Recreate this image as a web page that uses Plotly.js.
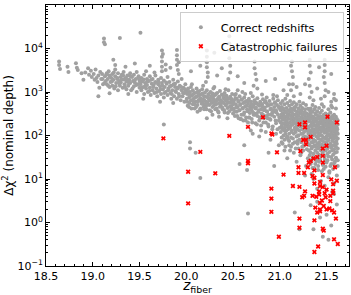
<!DOCTYPE html>
<html><head><meta charset="utf-8">
<script src="https://cdn.plot.ly/plotly-3.0.1.min.js"></script>
<style>html,body{margin:0;padding:0;background:#fff}#chart{width:351px;height:295px}</style>
</head><body><div id="chart"></div>
<script>
// Correct redshifts: fiber magnitude and delta chi^2
const correctZ = [
18.64,18.64,18.65,18.73,18.74,18.82,18.83,18.84,18.92,18.95,
18.96,18.98,18.99,19.01,19.03,19.04,19.05,19.06,19.07,19.08,
19.06,19.12,19.12,19.13,18.88,18.90,19.02,19.09,19.10,19.11,
19.13,19.14,19.15,19.15,19.16,19.17,19.18,19.18,19.19,19.20,
19.21,19.21,19.22,19.23,19.24,19.24,19.25,19.26,19.27,19.27,
19.28,19.29,19.30,19.30,19.31,19.32,19.33,19.33,19.34,19.35,
19.36,19.36,19.37,19.38,19.39,19.40,19.40,19.41,19.42,19.43,
19.44,19.44,19.45,19.46,19.47,19.47,19.48,19.49,19.50,19.50,
19.18,19.29,19.24,19.35,19.51,19.45,19.38,19.22,
19.51,19.52,19.52,19.53,19.54,19.55,19.55,19.56,19.57,19.58,
19.58,19.59,19.60,19.61,19.61,19.62,19.63,19.64,19.64,19.65,
19.66,19.67,19.67,19.68,19.69,19.70,19.70,19.71,19.72,19.73,
19.73,19.74,19.75,19.76,19.76,19.77,19.78,19.79,19.80,19.80,
19.81,19.82,19.83,19.84,19.84,19.85,19.86,19.87,19.88,19.88,
19.89,19.90,19.91,19.91,19.92,19.93,19.94,19.95,19.95,19.96,
19.97,19.98,19.98,19.99,20.00,19.57,19.66,19.54,19.72,19.86,
19.74,19.74,19.74,19.74,19.74,19.75,19.78,19.78,19.90,19.90,
19.90,19.90,19.91,19.92,19.92,19.61,19.83,19.76,20.04,
19.105,19.125,19.145,19.165,19.185,19.205,19.225,19.245,19.265,19.285,
19.305,19.325,19.345,19.365,19.385,19.405,19.425,19.445,19.465,19.485,
19.505,19.525,19.545,19.565,19.585,19.605,19.625,19.645,19.665,19.685,
19.705,19.725,19.745,19.765,19.785,19.805,19.825,19.845,19.865,19.885,
19.905,19.925,19.945,19.965,19.985,
20.01,20.01,20.02,20.03,20.03,20.04,20.05,20.05,20.06,20.07,
20.07,20.08,20.09,20.09,20.10,20.11,20.11,20.12,20.13,20.13,
20.14,20.15,20.15,20.16,20.17,20.17,20.18,20.19,20.19,20.20,
20.21,20.21,20.22,20.23,20.23,20.24,20.25,20.25,20.26,20.27,
20.27,20.28,20.29,20.29,20.30,20.31,20.31,20.32,20.33,20.33,
20.34,20.35,20.35,20.36,20.37,20.37,20.38,20.39,20.39,20.40,
20.41,20.41,20.42,20.43,20.43,20.44,20.45,20.45,20.46,20.47,
20.47,20.48,20.49,20.49,20.50,20.50,20.04,20.08,20.12,20.16,
20.20,20.24,20.28,20.32,20.36,20.40,20.44,20.48,20.06,20.18,
20.30,20.42,20.10,20.15,20.22,20.35,20.44,20.28,20.12,20.04,
20.22,20.22,20.22,20.22,20.23,20.23,20.21,20.46,20.46,20.46,
20.46,20.47,20.47,20.45,20.05,20.33,20.38,20.15,20.30,
20.005,20.015,20.025,20.035,20.045,20.055,20.065,20.075,20.085,20.095,
20.105,20.115,20.125,20.135,20.145,20.155,20.165,20.175,20.185,20.195,
20.205,20.215,20.225,20.235,20.245,20.255,20.265,20.275,20.285,20.295,
20.305,20.315,20.325,20.335,20.345,20.355,20.365,20.375,20.385,20.395,
20.405,20.415,20.425,20.435,20.445,20.455,20.465,20.475,20.485,20.495,
20.51,20.51,20.52,20.52,20.53,20.54,20.54,20.55,20.56,20.56,
20.57,20.57,20.58,20.59,20.59,20.60,20.61,20.61,20.62,20.62,
20.63,20.64,20.64,20.65,20.66,20.66,20.67,20.68,20.68,20.69,
20.70,20.70,20.71,20.72,20.72,20.73,20.74,20.74,20.75,20.76,
20.76,20.77,20.78,20.78,20.79,20.80,20.80,20.81,20.82,20.82,
20.83,20.84,20.84,20.85,20.86,20.86,20.87,20.88,20.88,20.89,
20.90,20.90,20.91,20.92,20.92,20.93,20.94,20.94,20.95,20.96,
20.96,20.97,20.98,20.98,20.99,21.00,21.00,20.53,20.58,20.63,
20.67,20.71,20.75,20.79,20.83,20.87,20.91,20.95,20.99,20.55,
20.69,20.81,20.93,20.60,20.74,20.86,20.97,20.57,20.65,20.66,
20.62,20.71,20.78,20.85,20.90,20.96,20.99,20.88,20.94,20.80,
20.69,20.73,20.73,20.74,20.75,20.72,20.76,20.95,20.85,20.62,20.55,
20.505,20.515,20.525,20.535,20.545,20.555,20.565,20.575,20.585,20.595,
20.605,20.615,20.625,20.635,20.645,20.655,20.665,20.675,20.685,20.695,
20.705,20.715,20.725,20.735,20.745,20.755,20.765,20.775,20.785,20.795,
20.805,20.815,20.825,20.835,20.845,20.855,20.865,20.875,20.885,20.895,
20.905,20.915,20.925,20.935,20.945,20.955,20.965,20.975,20.985,20.995,
21.01,21.01,21.01,21.01,21.02,21.02,21.02,21.02,
21.03,21.03,21.03,21.03,21.04,21.04,21.04,21.04,
21.05,21.05,21.05,21.05,21.06,21.06,21.06,21.06,
21.07,21.07,21.07,21.07,21.08,21.08,21.08,21.08,
21.09,21.09,21.09,21.09,21.10,21.10,21.10,21.10,
21.11,21.11,21.11,21.11,21.12,21.12,21.12,21.12,
21.13,21.13,21.13,21.13,21.14,21.14,21.14,21.14,
21.15,21.15,21.15,21.15,21.16,21.16,21.16,21.16,
21.17,21.17,21.17,21.17,21.18,21.18,21.18,21.18,
21.19,21.19,21.19,21.19,21.20,21.20,21.20,21.20,
21.21,21.21,21.21,21.21,21.22,21.22,21.22,21.22,
21.23,21.23,21.23,21.23,21.24,21.24,21.24,21.24,
21.25,21.25,21.25,21.25,21.26,21.26,21.26,21.26,
21.27,21.27,21.27,21.27,21.28,21.28,21.28,21.28,
21.29,21.29,21.29,21.29,21.30,21.30,21.30,21.30,
21.05,21.08,21.12,21.15,21.18,21.20,21.22,21.25,21.28,21.10,21.16,21.21,21.27,21.30,21.24,21.03,
21.13,21.13,21.12,21.13,21.14,21.14,21.12,21.15,21.04,21.08,21.18,21.22,21.27,21.10,
21.015,21.025,21.035,21.045,21.055,21.065,21.075,21.085,21.095,21.105,
21.115,21.125,21.135,21.145,21.155,21.165,21.175,21.185,21.195,21.205,
21.215,21.225,21.235,21.245,21.255,21.265,21.275,21.285,21.295,21.305,
21.02,21.06,21.09,21.11,21.14,21.17,21.19,21.23,21.26,21.29,
21.31,21.31,21.31,21.31,21.31,21.32,21.32,21.32,21.32,21.32,
21.33,21.33,21.33,21.33,21.33,21.34,21.34,21.34,21.34,21.34,
21.35,21.35,21.35,21.35,21.35,21.36,21.36,21.36,21.36,21.36,
21.37,21.37,21.37,21.37,21.37,21.38,21.38,21.38,21.38,21.38,
21.39,21.39,21.39,21.39,21.39,21.40,21.40,21.40,21.40,21.40,
21.41,21.41,21.41,21.41,21.41,21.42,21.42,21.42,21.42,21.42,
21.43,21.43,21.43,21.43,21.43,21.44,21.44,21.44,21.44,21.44,
21.45,21.45,21.45,21.45,21.45,21.46,21.46,21.46,21.46,21.46,
21.47,21.47,21.47,21.47,21.47,21.48,21.48,21.48,21.48,21.48,
21.49,21.49,21.49,21.49,21.49,21.50,21.50,21.50,21.50,21.50,
21.51,21.51,21.51,21.51,21.51,21.52,21.52,21.52,21.52,21.52,
21.53,21.53,21.53,21.53,21.53,21.54,21.54,21.54,21.54,21.54,
21.55,21.55,21.55,21.55,21.55,21.56,21.56,21.56,21.56,21.56,
21.57,21.57,21.57,21.57,21.57,21.58,21.58,21.58,21.58,21.58,
21.59,21.59,21.59,21.59,21.59,21.60,21.60,21.60,21.60,21.60,
21.61,21.61,21.61,21.61,21.61,21.62,21.62,21.62,21.62,21.62,
21.315,21.325,21.345,21.355,21.365,21.375,21.385,21.395,21.405,21.415,
21.425,21.435,21.445,21.455,21.465,21.475,21.485,21.495,21.505,21.515,
21.525,21.535,21.545,21.555,21.565,21.575,21.585,21.595,21.605,21.615,
21.33,21.38,21.42,21.47,21.52,21.56,21.60,21.35,21.45,21.55,
21.31,21.33,21.35,21.37,21.39,21.41,21.43,21.45,21.47,21.49,21.51,21.53,21.55,
21.57,21.59,21.61,21.36,21.44,21.52,21.58,21.40,21.48,21.56,21.34,21.60,21.62,
21.36,21.46,21.40,21.50,21.58,21.33,21.55,21.43,21.61,21.52,
21.32,21.34,21.36,21.38,21.40,21.42,21.44,21.46,21.48,21.50,21.52,
21.54,21.56,21.58,21.60,21.62,21.35,21.41,21.47,21.53,21.59,
21.32,21.32,21.33,21.31,21.32,21.34,21.32,21.48,21.48,21.48,21.47,21.48,
21.49,21.48,21.58,21.58,21.40,21.52,21.36,21.44,21.55,21.60,21.42,21.55
];
const correctDchi2 = [
5000,4200,3400,3800,2900,4600,3600,3200,2800,3500,
2500,3100,2200,2600,3300,2100,1700,2400,1250,2900,
800,17000,14000,12500,2700,1900,1900,2000,2600,1500,
2300,1800,2700,1500,2000,3000,1300,2400,1700,2100,
1400,2600,1900,1200,2300,3300,1600,2000,1100,2700,
1800,1400,2200,1650,2500,1250,1950,2900,1500,2100,
1750,1150,2400,1400,1900,2700,1600,1100,2200,1800,
1350,2500,1650,2000,1000,2900,1500,2300,1250,1850,
930,17500,4200,3800,23000,4500,900,5500,
1500,2100,1100,1750,1300,2500,900,1600,1200,2000,
1450,1000,1800,2300,1250,850,1550,1100,2000,1400,
950,1700,2400,1200,800,1500,1900,1050,1350,2100,
900,1600,1150,750,1850,1300,1000,1550,2200,850,
1200,1700,950,1400,700,1100,1900,800,1300,1550,
1000,700,1200,1750,900,1400,650,1100,2000,800,
1250,950,600,1500,1050,3000,2800,700,600,560,
9000,6500,5000,3800,3000,7500,4300,3200,9200,7000,
5500,4200,3200,2600,4800,4000,3600,180,70,
2000,1600,2500,1400,2200,1750,2800,1350,2100,1550,
1900,2400,1300,2000,1650,2300,1200,1850,1450,2100,
1700,1250,1950,1400,1750,1050,1900,1300,1600,1000,
1700,1150,1400,950,1650,1100,1350,900,1500,1050,
1250,800,1300,950,1150,
900,600,1200,750,450,1000,650,1300,820,520,
1100,700,950,420,600,1200,780,500,900,650,
1050,420,720,880,560,1150,680,800,400,980,
600,470,1100,750,530,900,380,650,1000,560,
800,450,700,1200,600,850,400,520,950,680,
360,780,560,1050,470,650,880,400,580,720,
340,950,500,620,820,430,700,1100,360,560,
780,460,640,900,320,520,820,560,1000,620,
520,700,920,620,460,560,560,700,1500,1400,
1300,1150,40,10.5,250,270,250,300,350,50,
9000,6500,4800,3700,2800,2200,1700,19000,13000,9000,
6000,4000,2800,2000,3000,2400,3500,4000,8000,
700,480,1000,560,850,420,650,900,520,760,
450,980,600,820,380,700,540,920,460,640,
780,400,580,860,500,720,360,620,800,480,
560,900,420,680,340,760,520,600,440,820,
380,660,500,740,330,580,460,700,400,620,
640,420,280,850,520,350,700,450,600,250,
800,380,520,300,680,430,220,560,750,340,
470,620,260,400,540,200,700,330,460,600,
240,380,800,500,300,650,190,420,560,280,
720,350,480,220,600,400,170,520,300,680,
250,440,580,200,360,750,480,160,300,620,
400,230,520,140,340,700,450,270,580,190,
380,500,300,650,220,420,150,900,240,900,
260,450,320,260,380,250,300,350,450,1100,
950,880,850,1000,560,550,800,22,16,1.6,
60,110,95,120,80,110,60,40,20,130,
130,5000,3500,2600,1900,1400,1200,2000,1800,1600,2300,
560,350,720,440,280,620,380,500,240,660,
420,300,580,220,480,360,640,260,400,520,
200,340,600,300,440,180,520,380,260,560,
320,460,200,400,620,280,350,180,500,240,
420,300,160,380,560,220,340,140,460,260,
380,200,120,550,260,90,450,160,
330,140,620,230,190,400,100,290,
520,250,150,80,350,180,700,110,
270,430,130,210,160,320,560,95,
240,380,140,190,480,110,300,75,
200,620,150,360,280,90,420,170,
130,340,230,520,400,180,260,85,
300,110,580,210,150,380,240,70,
460,190,310,120,260,95,520,160,
350,140,220,65,420,180,290,100,
230,600,130,80,330,160,480,200,
110,260,380,70,190,430,140,300,
90,250,550,170,340,120,210,60,
280,400,150,95,180,500,240,75,
320,130,220,90,410,160,270,65,
45,30,55,40,25,50,35,45,20,60,1.7,0.7,12,30,55,65,
9000,5000,4000,3000,2200,1500,1100,800,1100,850,1300,900,1500,1500,
300,180,420,130,340,220,90,270,160,380,
240,120,310,200,440,140,250,330,100,240,
170,360,230,110,310,190,330,130,250,110,
70,55,80,45,65,50,75,40,58,48,
300,150,80,45,210,220,110,380,60,130,
170,260,90,40,330,120,200,70,280,50,
350,140,100,55,240,190,80,270,38,130,
250,110,60,170,400,140,320,75,45,210,
230,95,160,55,300,120,180,65,360,40,
280,140,85,50,200,160,240,70,110,36,
330,100,190,55,140,210,80,270,45,120,
150,370,62,100,230,260,130,75,40,180,
90,210,300,55,150,170,115,60,250,34,
230,85,140,45,320,120,190,68,280,95,
160,250,50,110,38,300,140,78,210,58,
100,180,42,260,130,220,65,150,340,90,
170,110,52,240,32,130,280,75,195,45,
250,100,60,150,36,180,85,300,120,48,
140,220,70,105,40,200,95,160,55,270,
120,240,65,150,42,180,85,110,50,220,
250,95,160,70,220,110,55,130,250,100,
60,240,150,48,90,190,70,130,220,80,
170,60,110,200,85,130,60,175,75,140,
420,450,430,460,400,440,420,500,520,480,
28,22,30,18,26,20,28,15,24,19,27,14,22,
17,25,12,10,9,11,8,6,7,5,13,30,20,
0.7,0.47,3,1.5,4.5,2.5,0.85,1.3,2.6,0.4,
35,26,32,22,30,25,34,21,29,24,33,
20,28,23,31,27,18,16,17,15,19,
5500,4000,2800,2000,1400,1000,750,5500,4200,3000,2200,1600,
1100,800,900,700,1200,1000,650,700,600,650,3700,2600
];
// Catastrophic failures
const failZ = [
19.755,20.46,20.66,20.82,20.91,20.92,21.21,21.27,21.27,21.25,
21.28,21.28,21.33,21.46,21.50,21.51,21.61,20.15,20.97,21.22,
20.02,20.31,20.66,20.66,21.04,20.91,20.91,20.91,20.02,20.99,
21.14,21.20,21.20,21.21,21.24,21.26,21.21,21.21,21.36,21.40,
21.46,21.33,21.31,21.46,21.30,21.37,21.59,21.26,21.35,21.37,
21.46,21.43,21.37,21.55,21.61,21.57,21.43,21.46,21.42,21.50,
21.57,21.27,21.42,21.48,21.57,21.35,21.39,21.49,21.54,21.43,
21.45,21.54,21.38,21.43,21.53,21.43,21.40,21.47,21.50,21.56,
21.58,21.60,21.37,21.46,21.47,21.58,21.62,21.41,21.37
];
const failDchi2 = [
86,98,158,263,112,105,182,200,155,79,
79,63,93,50,58,270,200,42,41,44,
14.7,13.5,26,23,12.6,6.0,3.55,1.76,2.75,0.47,
6.9,18.6,13.8,6.6,3.8,4.1,1.23,0.76,29.5,32,
34,26,24,24,18.6,15.8,18.6,13.8,11.7,10.7,
12.3,8.5,7.9,9.8,9.1,7.6,6.9,6.5,5.2,5.7,
5.4,5.2,4.4,4.7,4.7,4.1,3.9,3.8,4.1,2.8,
3.2,3.1,2.2,2.0,2.1,1.8,1.7,2.4,2.0,1.9,
1.7,1.23,1.12,0.72,0.65,0.41,0.32,0.28,0.21
];
const seriesNames = ['Correct redshifts', 'Catastrophic failures'];
const yTickVals = [0.1, 1, 10, 100, 1000, 10000, 100000];
const yTickText = ['10<sup>−1</sup>','10<sup>0</sup>','10<sup>1</sup>','10<sup>2</sup>','10<sup>3</sup>','10<sup>4</sup>','10<sup>5</sup>'];

const traces = [
  {type:'scatter', mode:'markers', name:seriesNames[0], x:correctZ, y:correctDchi2,
   marker:{color:'#a0a0a0', size:4, line:{width:0}}, hoverinfo:'skip'},
  {type:'scatter', mode:'markers', name:seriesNames[1], x:failZ, y:failDchi2,
   marker:{color:'#ff0000', symbol:'x', size:4.3, line:{width:0}}, hoverinfo:'skip'}
];
const axisCommon = {
  ticks:'inside', ticklen:4, tickwidth:1, tickcolor:'#000',
  showline:true, linecolor:'#000', linewidth:1, mirror:'allticks',
  showgrid:false, zeroline:false
};
const layout = {
  width:351, height:295,
  margin:{l:46, r:2, t:5, b:29},
  paper_bgcolor:'#fff', plot_bgcolor:'#fff',
  font:{family:'DejaVu Sans, sans-serif', size:11, color:'#000'},
  showlegend:true,
  legend:{x:0.983, y:0.974, xanchor:'right', yanchor:'top',
    bgcolor:'rgba(255,255,255,0.8)', bordercolor:'#cccccc', borderwidth:1,
    font:{family:'DejaVu Sans, sans-serif', size:11.3, color:'#000'}},
  xaxis:Object.assign({}, axisCommon, {
    range:[18.5, 21.74], tick0:18.5, dtick:0.5, tickformat:'.1f',
    minor:{dtick:0.1, ticks:'inside', ticklen:2, tickcolor:'#000', showgrid:false},
    title:{text:'<i>z</i><sub>fiber</sub>', font:{size:13.5}, standoff:3}
  }),
  yaxis:Object.assign({}, axisCommon, {
    type:'log', range:[-1, 5], tickmode:'array', tickvals:yTickVals, ticktext:yTickText,
    minor:{dtick:'D1', ticks:'inside', ticklen:2, tickcolor:'#000', showgrid:false},
    title:{text:'Δχ<sup>2</sup> (nominal depth)', font:{size:12}}
  })
};
Plotly.newPlot('chart', traces, layout, {displayModeBar:false, staticPlot:true});
</script>
</body></html>
